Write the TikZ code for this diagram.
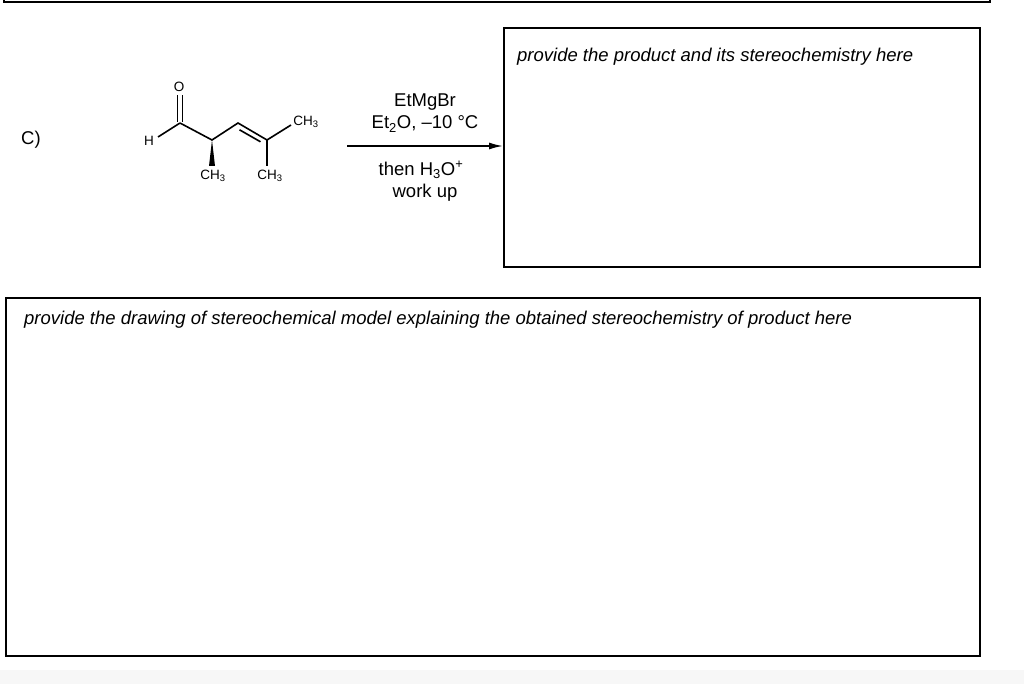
\documentclass[tikz,border=0pt]{standalone}
\usepackage{fontspec}
\usetikzlibrary{arrows.meta}
\setmainfont{Liberation Sans}
\begin{document}
\begin{tikzpicture}[x=1pt,y=-1pt,
  bond/.style={line width=1.6pt},
  box/.style={draw,line width=1.6pt},
  lab/.style={font=\fontsize{13.5}{15}\selectfont,inner sep=1pt},
  txt/.style={font=\fontsize{18.5}{21}\selectfont,inner sep=0pt}]
\useasboundingbox (0,0) rectangle (1024,684);
\fill[gray!6] (0,670) rectangle (1024,684);
\draw[line width=1.6pt] (4,0) -- (4,2) -- (990,2) -- (990,0);
\node[box,minimum width=476pt,minimum height=239pt,anchor=north west] (pbox) at (503,27) {};
\node[txt,anchor=west,font=\fontsize{18.5}{21}\selectfont\itshape] (ptxt) at (517,57) {provide the product and its stereochemistry here};
\node[box,minimum width=974pt,minimum height=358pt,anchor=north west] (mbox) at (5,297) {};
\node[txt,anchor=west,font=\fontsize{18.5}{21}\selectfont\itshape] (mtxt) at (24,320) {provide the drawing of stereochemical model explaining the obtained stereochemistry of product here};
\node[txt] (lbl) at (31,140) {C)};
% molecule
\coordinate (c1) at (180,123);
\coordinate (c2) at (212,140);
\coordinate (c3) at (238,123);
\coordinate (c4) at (267,140);
\coordinate (cO) at (180,95);
\coordinate (cH) at (158,137);
\coordinate (e5) at (291,125);
\coordinate (e4) at (267,166);
\node[lab] (O) at (179,87) {O};
\node[lab] (H) at (149,141) {H};
\node[lab] (me2) at (213,176) {CH\textsubscript{3}};
\node[lab] (me4) at (270,176) {CH\textsubscript{3}};
\node[lab] (me5) at (306,122) {CH\textsubscript{3}};
\draw[bond] (cH) -- (c1);
\draw[bond] (c1) -- (c2) -- (c3) -- (c4);
\draw[bond] (177.5,122) -- (177.5,95);
\draw[bond] (182.5,122) -- (182.5,95);
\draw[bond] (239.5,129.8) -- (260.5,141.8);
\draw[bond] (c4) -- (e4);
\draw[bond] (c4) -- (e5);
\fill (c2) -- (209,166) -- (215,166) -- cycle;
% arrow
\coordinate (as) at (347,146);
\draw[line width=1.6pt,-{Latex[length=14pt,width=7pt]}] (as) -- (pbox.west |- as);
\node[txt] (r1) at (425,102) {EtMgBr};
\node[txt] (r2) at (425,124) {Et\textsubscript{2}O, \textendash10 \textdegree C};
\node[txt] (r3) at (421,170) {then H\textsubscript{3}O\textsuperscript{+}};
\node[txt] (r4) at (425,193) {work up};
\end{tikzpicture}
\end{document}
